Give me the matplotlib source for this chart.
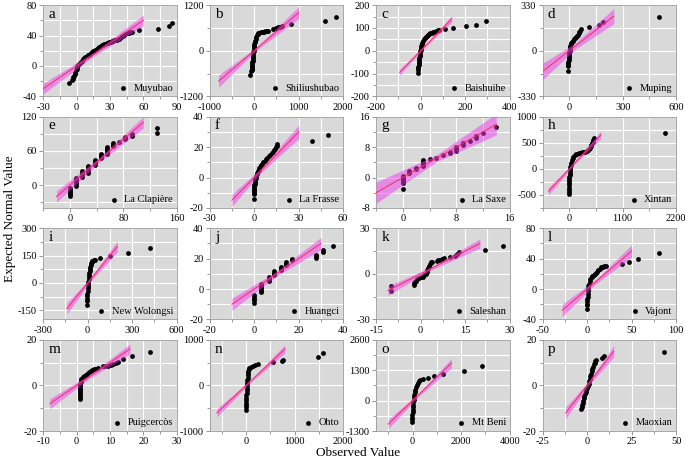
import numpy as np
import matplotlib.pyplot as plt
from matplotlib.ticker import MultipleLocator, AutoMinorLocator

letters = list("abcdefghijklmnop")
names = ["Muyubao", "Shiliushubao", "Baishuihe", "Muping",
         "La Clapière", "La Frasse", "La Saxe", "Xintan",
         "New Wolongsi", "Huangci", "Saleshan", "Vajont",
         "Puigcercòs", "Ohto", "Mt Beni", "Maoxian"]

qq_a = [(-7, -23), (-4, -19), (-3.5, -17), (-3, -15), (-2.5, -13), (-1.5, -11), (-1, -9),
        (-0.5, -6), (0, -4), (0, -2), (0.5, 0), (1, 1.5), (2, 3), (3, 4), (4, 5.5), (5, 7),
        (6, 8.5), (7, 10), (8, 11.5), (9, 13), (10, 14), (11, 15), (12, 16), (13, 17),
        (14, 18), (15, 19), (16, 20), (17, 21), (18, 22), (19, 23), (20, 24.5), (21, 25.5),
        (22, 26.5), (23, 27), (24, 28), (25, 29), (26, 29.5), (27, 30), (28, 30.5), (29, 31),
        (30, 31.5), (31, 32), (32, 32.5), (33, 33), (34, 33.5), (35, 34), (36, 34.5),
        (37, 35), (38, 36), (39, 37), (40, 38.5), (41, 39.5), (42, 40), (43, 41), (44, 42),
        (46, 43), (47, 43.5), (48, 44), (50, 45), (56, 47), (73, 49), (83, 52), (86, 57)]

qq_b = [(-92, -635), (-60, -530), (-56, -500), (-54, -485), (-50, -440), (-46, -397),
        (-42, -353), (-38, -309), (-35, -265), (-31, -220), (-27, -176), (-23, -132),
        (-19, -88), (-15, -44), (-11, 0), (-8, 44), (-3, 88), (2, 132), (8, 176), (15, 220),
        (23, 265), (33, 320), (46, 370), (60, 410), (77, 441), (95, 460), (115, 477),
        (150, 488), (192, 494), (230, 505), (254, 512), (280, 520), (308, 530), (423, 565),
        (450, 580), (485, 600), (510, 610), (538, 618), (570, 635), (615, 653), (831, 706),
        (1592, 777), (1846, 900)]

qq_c = [(-12, -97), (-11, -85), (-11, -77), (-10, -70), (-9, -62), (-9, -55), (-8, -48),
        (-7, -40), (-6, -32), (-5, -25), (-4, -18), (-3, -10), (-2, -3), (0, 5), (2, 13),
        (3, 20), (5, 28), (8, 36), (11, 44), (15, 51), (19, 56), (23, 61), (27, 65),
        (32, 69), (38, 73), (44, 76), (50, 78), (56, 80), (62, 82), (68, 85), (74, 87),
        (79, 89), (84, 92), (109, 95), (144, 101), (204, 107), (249, 114), (296, 129)]

qq_d = [(-10, -145), (-8, -108), (-7, -100), (-6, -92), (-5, -80), (-4, -70), (-3, -60),
        (-2, -48), (-1, -36), (0, -24), (1, -12), (2, 0), (3, 12), (4, 24), (6, 36), (8, 48),
        (12, 58), (16, 66), (20, 72), (25, 82), (31, 92), (36, 100), (42, 108), (47, 116),
        (52, 125), (57, 135), (62, 145), (67, 157), (112, 169), (169, 186), (188, 205),
        (504, 241)]

qq_e = [(0, -19), (0, -16), (0, -13), (0, -10), (0, -8), (0, -5), (9, -1), (9, 2), (9, 5),
        (9, 8), (9, 11), (9, 13), (18, 15), (18, 18), (18, 21), (18, 24), (27, 22), (27, 25),
        (27, 28), (27, 31), (27, 34), (37, 36), (37, 38), (37, 40), (37, 42), (37, 44),
        (46, 48), (46, 50), (46, 52), (46, 55), (55, 55), (55, 57), (55, 59), (55, 62),
        (55, 64), (55, 67), (65, 69), (65, 71), (65, 74), (74, 76), (83, 80), (83, 82),
        (83, 84), (93, 86), (93, 88), (93, 90), (131, 92), (131, 100)]

qq_f = [(0, -14), (0, -11), (0, -10), (0, -9), (0, -8), (0, -7), (0, -6), (0.2, -5),
        (0.3, -4), (0.4, -3), (0.5, -2), (0.7, -1), (1, 0), (1.3, 1), (1.7, 2), (2, 3),
        (2.5, 4), (3, 5), (3.5, 6), (4, 7), (4.7, 8), (5.5, 9), (6.3, 10), (7.2, 11), (8, 12),
        (9, 13), (10, 14), (11, 15), (12, 16), (13, 17), (13.7, 18), (14.2, 19), (14.7, 20),
        (15.1, 21), (15.5, 22), (39, 24), (50, 28)]

qq_g = [(0, -3.1), (0, -1.5), (0, -1.1), (0, -0.8), (0, -0.5), (0, -0.2), (0, 0.4), (1, 1.3),
        (1, 1.7), (2, 2.2), (2, 2.5), (3, 2.9), (3, 3.3), (3, 3.6), (3, 4.0), (3, 4.5),
        (4, 4.8), (5, 5.2), (6, 5.9), (7, 6.4), (7, 6.8), (8, 7.1), (8, 7.5), (8, 8.0),
        (9, 8.6), (9, 9.2), (10, 9.6), (11, 10.3), (11, 10.8), (12, 11.6), (14, 13.2)]

qq_h = [(0, -478), (0, -440), (0, -401), (0, -360), (0, -320), (0, -280), (0, -240),
        (2, -200), (3, -160), (5, -120), (8, -80), (12, -40), (16, 0), (22, 40), (30, 80),
        (40, 120), (52, 160), (68, 200), (85, 236), (110, 262), (135, 280), (155, 290),
        (190, 300), (226, 310), (260, 318), (300, 325), (331, 332), (360, 345), (385, 360),
        (402, 376), (420, 400), (440, 430), (451, 459), (465, 490), (480, 520), (494, 554),
        (508, 592), (1968, 682)]

qq_i = [(-7, -123), (-5, -100), (-4, -85), (-3, -70), (-2, -60), (-1, -45), (0, -30),
        (1, -18), (2, -5), (4, 8), (6, 20), (8, 32), (10, 45), (12, 55), (14, 65), (16, 75),
        (19, 88), (22, 98), (25, 108), (28, 115), (32, 121), (40, 124), (51, 128), (85, 138),
        (150, 149), (270, 165), (420, 193)]

qq_j = [(0, -9.2), (0, -7.5), (0, -6.4), (0, -5.2), (0, -4.2), (3, -2), (3, -1.2), (3, -0.4),
        (3, 0.5), (3, 1.3), (3, 2.4), (3, 3.5), (6.5, 5.3), (6.5, 6.1), (6.5, 6.8),
        (6.5, 7.9), (9, 9), (9, 9.9), (9, 10.8), (9, 11.9), (12, 12.7), (12, 13.6),
        (12, 14.5), (14.5, 15.6), (14.5, 16.7), (14.5, 17.8), (17, 18.9), (17, 19.8),
        (28, 20.7), (28, 21.5), (28, 22.2), (31, 24.4), (31, 25.5), (35.5, 28.4)]

qq_k = [(-10, -11), (-10, -8.2), (-2.3, -7), (-2.1, -6.2), (-1.9, -5.5), (-1.6, -4.5),
        (-1.2, -3.5), (-0.5, -2.8), (0.2, -2.2), (0.8, -1.8), (1.3, -1), (1.7, 0), (2, 1.1),
        (2.3, 2.5), (2.6, 4), (2.9, 5.3), (3.2, 6.6), (3.6, 7.5), (4, 8), (5.5, 8.5),
        (6, 8.8), (6.6, 9.3), (7.2, 9.7), (8, 10.4), (10, 11), (11.7, 11.6), (12.3, 13),
        (13, 14.3), (21.6, 15.5), (27.8, 18.1)]

qq_l = [(0, -26), (0, -21), (0, -19), (0, -16), (0.3, -13), (0.5, -10), (0.7, -6), (0.9, -3),
        (1, 0.4), (1.5, 4), (2, 7), (2.8, 10), (3.8, 13.7), (5, 15.5), (6, 17), (7.5, 18),
        (9, 20), (10, 21), (11.3, 22.5), (12.5, 24.5), (14, 27), (16, 28.5), (18, 29.5),
        (19, 30), (21, 31), (39, 33.5), (47, 36), (57, 39.6), (81, 47.6)]

qq_m = [(1, -5.8), (1, -5), (1, -4.3), (1, -3.6), (1, -2.9), (1, -2.1), (1, -1.4), (1, -0.7),
        (1.1, 0), (1.1, 0.7), (1.2, 1.4), (1.3, 2.1), (1.4, 2.9), (1.9, 3.6), (2.3, 4.1),
        (2.7, 4.6), (3.2, 5.2), (3.7, 5.8), (4.2, 6.3), (4.7, 6.7), (5.3, 7), (5.8, 7.3),
        (6.3, 7.5), (7.8, 8.4), (8.6, 8.5), (9.4, 8.7), (10.2, 9), (10.9, 9.4), (11.7, 9.8),
        (12.5, 10.1), (14, 11.6), (16.5, 12.8), (22, 14.8)]

qq_n = [(0, -531), (0, -480), (0, -436), (0, -380), (0, -327), (3, -270), (7, -218),
        (10, -160), (14, -109), (17, -55), (21, 0), (25, 55), (28, 109), (31, 160), (35, 218),
        (42, 270), (49, 327), (60, 355), (70, 378), (100, 400), (140, 422), (190, 450),
        (246, 473), (561, 509), (737, 545), (758, 567), (1474, 618), (1593, 713)]

qq_o = [(-28, -910), (-20, -800), (-14, -722), (-7, -610), (0, -506), (7, -400), (14, -289),
        (21, -180), (28, -72), (42, 40), (56, 145), (77, 250), (98, 361), (120, 470),
        (140, 578), (175, 680), (210, 766), (270, 840), (323, 896), (420, 939), (631, 983),
        (884, 1055), (1262, 1156), (2104, 1272), (2875, 1474)]

qq_p = [(-3.4, -10.4), (-3.1, -9.5), (-2.8, -8.6), (-2.5, -7.6), (-2.3, -6.7), (-1.9, -5.7),
        (-1.5, -4.7), (-1.1, -3.8), (-0.8, -3), (-0.4, -2.1), (0, -1.2), (0.4, -0.2),
        (0.8, 0.7), (1.1, 1.8), (1.5, 3), (1.9, 4.1), (2.3, 5.2), (2.6, 6.3), (3, 7.4),
        (3.4, 8.3), (3.8, 9.2), (4.2, 10), (4.7, 10.7), (5.2, 11.2), (8.5, 12.1), (9.4, 13),
        (43, 14.8)]

qq_data = [qq_a, qq_b, qq_c, qq_d, qq_e, qq_f, qq_g, qq_h,
           qq_i, qq_j, qq_k, qq_l, qq_m, qq_n, qq_o, qq_p]

# reference line y = x: start, waist, end of the band and its half width there
line_x = [(-30, 15, 60), (-800, 50, 1000), (-95, 20, 140), (-150, 30, 250),
          (-20, 45, 110), (-15, 5, 30), (-4, 5, 14), (-430, 100, 650),
          (-140, 20, 200), (-10, 10, 30), (-11, 3, 20), (-28, 10, 50),
          (-8, 4, 16), (-600, 100, 800), (-1000, 250, 1600), (-12, 1, 15)]
band_hw = [(7, 2.5, 7), (160, 40, 155), (12, 5, 14), (60, 22, 55),
           (10, 4, 10), (4, 1.5, 4.5), (2.8, 0.9, 2.8), (70, 25, 70),
           (30, 10, 30), (4, 1.5, 4), (3, 1, 3), (8, 3, 8),
           (2.2, 0.8, 2.2), (90, 30, 90), (200, 70, 200), (2.5, 0.9, 2.5)]

# axis ranges and major tick steps
xlims = [(-30, 90), (-1000, 2000), (-200, 400), (-150, 600),
         (-40, 160), (-30, 60), (-4, 16), (-550, 2200),
         (-300, 600), (-20, 40), (-15, 30), (-50, 100),
         (-10, 30), (-750, 2000), (-1500, 4000), (-25, 50)]
ylims = [(-40, 80), (-1200, 1200), (-200, 200), (-330, 330),
         (-40, 120), (-20, 40), (-8, 16), (-750, 1000),
         (-200, 300), (-20, 40), (-30, 30), (-40, 80),
         (-20, 20), (-1000, 1000), (-1300, 2600), (-20, 20)]
xstep = [30, 1000, 200, 300, 80, 30, 8, 1100, 300, 20, 15, 50, 10, 1000, 2000, 25]
ystep = [40, 1200, 100, 330, 60, 20, 8, 500, 150, 20, 30, 40, 20, 1000, 1300, 20]

plt.rcParams["font.family"] = ["Liberation Serif", "DejaVu Serif"]
plt.rcParams["axes.unicode_minus"] = False

fig, axes = plt.subplots(4, 4, figsize=(6.85, 4.65), dpi=100)
fig.subplots_adjust(left=0.063, right=0.987, top=0.989, bottom=0.073,
                    wspace=0.247, hspace=0.223)

for k, ax in enumerate(axes.flat):
    ax.set_facecolor("#d9d9d9")
    pts = np.array(qq_data[k], dtype=float)
    ax.scatter(pts[:, 0], pts[:, 1], s=12, color="black", zorder=3,
               linewidths=0, label=names[k])

    # confidence band and y = x line drawn over the points
    bx = np.array(line_x[k], dtype=float)
    hw = np.array(band_hw[k], dtype=float)
    ax.fill_between(bx, bx - hw, bx + hw, color="#f03cf0", alpha=0.5,
                    linewidth=0, zorder=4)
    ax.plot([bx[0], bx[-1]], [bx[0], bx[-1]], color="#ff2a55", lw=0.7, zorder=5)

    ax.set_xlim(xlims[k])
    ax.set_ylim(ylims[k])
    ax.xaxis.set_major_locator(MultipleLocator(xstep[k]))
    ax.yaxis.set_major_locator(MultipleLocator(ystep[k]))
    ax.xaxis.set_minor_locator(AutoMinorLocator(2))
    ax.yaxis.set_minor_locator(AutoMinorLocator(2))
    ax.grid(True, which="both", color="white", lw=0.8)
    ax.set_axisbelow(True)
    ax.tick_params(which="both", direction="out", labelsize=7.5, pad=1.5,
                   color="#888888", width=0.6)
    ax.tick_params(which="major", length=3)
    ax.tick_params(which="minor", length=2)
    for sp in ax.spines.values():
        sp.set_color("#999999")
        sp.set_linewidth(0.6)

    ax.text(0.04, 0.97, letters[k], transform=ax.transAxes, ha="left",
            va="top", fontsize=11)
    ax.legend(loc="lower right", frameon=False, fontsize=7.5, handlelength=0.8,
              handletextpad=0.6, borderaxespad=0.15, borderpad=0.2)

fig.text(0.015, 0.53, "Expected Normal Value", rotation=90, ha="center",
         va="center", fontsize=9.5)
fig.text(0.523, 0.012, "Observed Value", ha="center", va="bottom", fontsize=9.5)

plt.savefig("out.png", dpi=100)
